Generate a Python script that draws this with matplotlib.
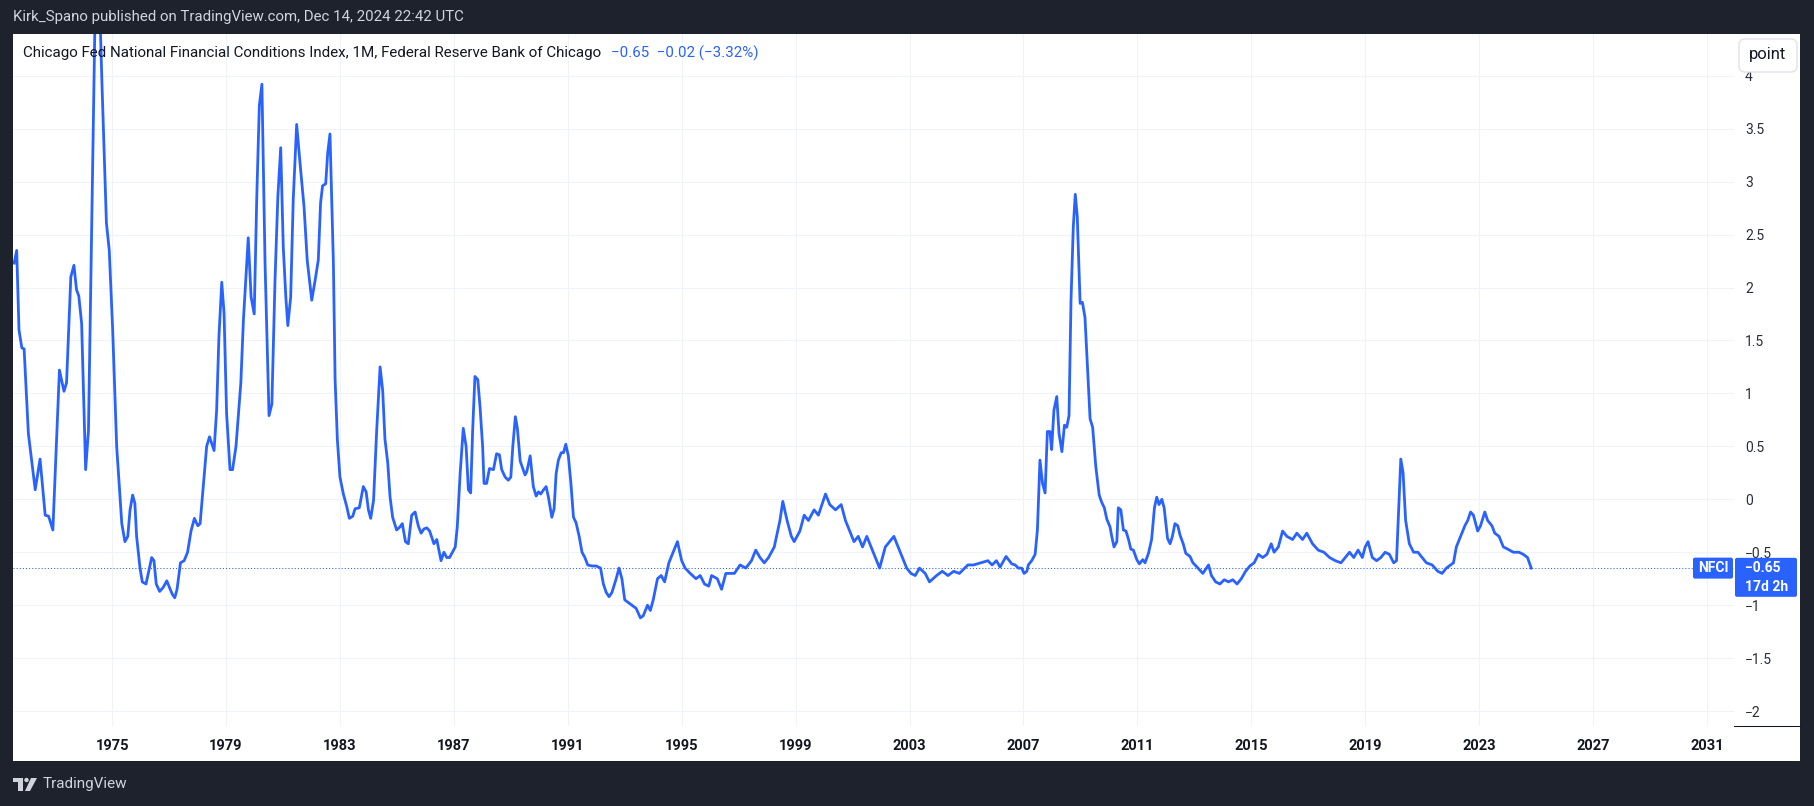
import matplotlib
matplotlib.use("Agg")
import numpy as np
import matplotlib.pyplot as plt
from matplotlib.patches import Rectangle, FancyBboxPatch, Polygon, Circle
from matplotlib.lines import Line2D
from matplotlib.transforms import IdentityTransform

plt.rcParams['font.family'] = ['Roboto', 'DejaVu Sans']

# NFCI, monthly readings taken off the chart (decimal year, index value)
years_1971 = [1971.56, 1971.65, 1971.73, 1971.83, 1971.91, 1972.06, 1972.30, 1972.47, 1972.65, 1972.77,
              1972.92, 1973.15, 1973.31, 1973.40, 1973.55, 1973.66, 1973.75, 1973.83, 1973.93, 1974.07,
              1974.17, 1974.28, 1974.42, 1974.54, 1974.64, 1974.80, 1974.90, 1975.02, 1975.16, 1975.34,
              1975.45, 1975.55, 1975.63, 1975.72, 1975.80, 1975.86, 1975.98, 1976.06, 1976.19, 1976.27,
              1976.39, 1976.47, 1976.55, 1976.67, 1976.80, 1976.92, 1977.04, 1977.12, 1977.20, 1977.28,
              1977.40, 1977.53, 1977.65, 1977.77, 1977.89, 1978.01, 1978.09, 1978.32, 1978.42, 1978.58,
              1978.67, 1978.75, 1978.85, 1978.93, 1979.02, 1979.14, 1979.23, 1979.35, 1979.52, 1979.61,
              1979.78, 1979.88, 1979.99]
nfci_1971 = [2.23, 2.35, 1.60, 1.43, 1.42, 0.62, 0.09, 0.38, -0.15, -0.16,
             -0.29, 1.22, 1.02, 1.10, 2.10, 2.21, 1.98, 1.92, 1.66, 0.28,
             0.65, 2.54, 4.90, 4.90, 3.96, 2.61, 2.35, 1.60, 0.50, -0.23,
             -0.40, -0.35, -0.10, 0.04, -0.04, -0.35, -0.65, -0.78, -0.80, -0.70,
             -0.55, -0.58, -0.80, -0.87, -0.83, -0.77, -0.85, -0.90, -0.93, -0.85,
             -0.60, -0.58, -0.50, -0.30, -0.18, -0.25, -0.23, 0.50, 0.59, 0.46,
             0.84, 1.53, 2.05, 1.76, 0.81, 0.28, 0.28, 0.50, 1.10, 1.69,
             2.47, 1.91, 1.75]

years_1980 = [1980.08, 1980.17, 1980.26, 1980.37, 1980.51, 1980.61, 1980.72, 1980.82, 1980.92, 1981.01,
              1981.10, 1981.17, 1981.27, 1981.36, 1981.48, 1981.60, 1981.74, 1981.85, 1982.01, 1982.13,
              1982.24, 1982.32, 1982.39, 1982.50, 1982.57, 1982.65, 1982.77, 1982.83, 1982.91, 1983.00,
              1983.12, 1983.24, 1983.33, 1983.45, 1983.53, 1983.68, 1983.82, 1983.92, 1984.00, 1984.08,
              1984.18, 1984.29, 1984.41, 1984.50, 1984.58, 1984.68, 1984.76, 1984.85, 1984.99, 1985.11,
              1985.19, 1985.30, 1985.40, 1985.52, 1985.64, 1985.75, 1985.85, 1985.95, 1986.05, 1986.15,
              1986.30, 1986.40, 1986.55, 1986.65, 1986.75, 1986.85, 1986.95, 1987.05, 1987.12, 1987.22,
              1987.33, 1987.43, 1987.51, 1987.59, 1987.66, 1987.74, 1987.84, 1987.92, 1988.01, 1988.06,
              1988.15, 1988.25, 1988.39, 1988.50, 1988.60, 1988.68, 1988.80, 1988.91, 1989.00, 1989.07,
              1989.16, 1989.23, 1989.33, 1989.50, 1989.56, 1989.68, 1989.79, 1989.89, 1989.97, 1990.05,
              1990.15, 1990.24, 1990.32, 1990.44, 1990.52, 1990.59, 1990.67, 1990.77, 1990.85, 1990.93,
              1991.02, 1991.11, 1991.20, 1991.29]
nfci_1980 = [2.86, 3.72, 3.92, 2.23, 0.79, 0.90, 2.07, 2.86, 3.32, 2.38,
             1.91, 1.64, 1.91, 2.83, 3.54, 3.17, 2.76, 2.26, 1.88, 2.07,
             2.26, 2.80, 2.96, 2.98, 3.27, 3.45, 2.23, 1.13, 0.56, 0.21,
             0.05, -0.07, -0.18, -0.16, -0.09, -0.08, 0.12, 0.07, -0.10, -0.18,
             -0.01, 0.65, 1.25, 1.03, 0.57, 0.34, 0.02, -0.17, -0.29, -0.26,
             -0.23, -0.40, -0.42, -0.15, -0.12, -0.25, -0.32, -0.28, -0.27, -0.30,
             -0.42, -0.38, -0.58, -0.50, -0.55, -0.55, -0.50, -0.45, -0.26, 0.24,
             0.67, 0.50, 0.09, 0.06, 0.65, 1.16, 1.13, 0.87, 0.50, 0.15,
             0.15, 0.29, 0.28, 0.43, 0.42, 0.28, 0.21, 0.18, 0.21, 0.50,
             0.78, 0.67, 0.36, 0.23, 0.26, 0.41, 0.12, 0.03, 0.07, 0.05,
             0.09, 0.12, 0.02, -0.17, -0.09, 0.24, 0.37, 0.44, 0.44, 0.52,
             0.41, 0.15, -0.17, -0.22]

years_1991 = [1991.40, 1991.50, 1991.60, 1991.70, 1991.85, 1992.00, 1992.15, 1992.25, 1992.35, 1992.45,
              1992.55, 1992.70, 1992.80, 1992.90, 1993.00, 1993.10, 1993.25, 1993.40, 1993.55, 1993.65,
              1993.80, 1993.90, 1994.00, 1994.15, 1994.28, 1994.40, 1994.55, 1994.70, 1994.85, 1995.00,
              1995.12, 1995.30, 1995.50, 1995.65, 1995.80, 1995.95, 1996.05, 1996.25, 1996.40, 1996.55,
              1996.85, 1997.05, 1997.25, 1997.45, 1997.60, 1997.75, 1997.90, 1998.05, 1998.25, 1998.45,
              1998.55, 1998.70, 1998.85, 1998.95, 1999.15, 1999.30, 1999.45, 1999.65, 1999.80, 2000.05,
              2000.20, 2000.40, 2000.60, 2000.75, 2000.90, 2001.05, 2001.20, 2001.35, 2001.50, 2001.65,
              2001.80, 2001.95, 2002.15, 2002.30, 2002.45, 2002.60, 2002.75, 2002.90, 2003.05, 2003.20,
              2003.35, 2003.55, 2003.70, 2003.95, 2004.15, 2004.35, 2004.55, 2004.75, 2005.05, 2005.25,
              2005.50, 2005.75, 2005.90, 2006.05]
nfci_1991 = [-0.35, -0.50, -0.55, -0.62, -0.63, -0.63, -0.65, -0.80, -0.88, -0.92,
             -0.88, -0.75, -0.65, -0.75, -0.95, -0.97, -1.00, -1.03, -1.12, -1.10,
             -1.00, -1.05, -0.95, -0.75, -0.72, -0.78, -0.60, -0.50, -0.40, -0.58,
             -0.65, -0.70, -0.75, -0.72, -0.80, -0.82, -0.72, -0.75, -0.85, -0.70,
             -0.70, -0.62, -0.65, -0.58, -0.48, -0.55, -0.60, -0.55, -0.45, -0.20,
             -0.02, -0.20, -0.35, -0.40, -0.30, -0.15, -0.20, -0.10, -0.15, 0.05,
             -0.05, -0.10, -0.05, -0.20, -0.30, -0.40, -0.35, -0.45, -0.35, -0.45,
             -0.55, -0.65, -0.45, -0.40, -0.35, -0.45, -0.55, -0.65, -0.70, -0.72,
             -0.65, -0.70, -0.78, -0.72, -0.68, -0.72, -0.68, -0.70, -0.62, -0.62,
             -0.60, -0.58, -0.62, -0.58]

years_2006 = [2006.18, 2006.39, 2006.59, 2006.71, 2006.82, 2006.94, 2007.02, 2007.12, 2007.17, 2007.29,
              2007.41, 2007.49, 2007.58, 2007.67, 2007.76, 2007.84, 2007.93, 2007.99, 2008.07, 2008.17,
              2008.25, 2008.35, 2008.44, 2008.52, 2008.60, 2008.67, 2008.75, 2008.82, 2008.89, 2008.99,
              2009.07, 2009.16, 2009.26, 2009.34, 2009.43, 2009.54, 2009.66, 2009.75, 2009.84, 2009.93,
              2010.04, 2010.10, 2010.18, 2010.28, 2010.33, 2010.42, 2010.51, 2010.60, 2010.69, 2010.77,
              2010.86, 2010.98, 2011.07, 2011.19, 2011.27, 2011.39, 2011.50, 2011.60, 2011.68, 2011.76,
              2011.86, 2011.94, 2012.06, 2012.15, 2012.23, 2012.32, 2012.42, 2012.50, 2012.61, 2012.70,
              2012.85, 2012.95, 2013.06, 2013.20]
nfci_2006 = [-0.64, -0.54, -0.61, -0.62, -0.65, -0.65, -0.70, -0.68, -0.62, -0.58,
             -0.52, -0.29, 0.37, 0.15, 0.06, 0.64, 0.64, 0.47, 0.84, 0.97,
             0.62, 0.45, 0.70, 0.68, 0.79, 1.88, 2.57, 2.88, 2.67, 1.85,
             1.86, 1.72, 1.19, 0.76, 0.68, 0.31, 0.04, -0.03, -0.08, -0.19,
             -0.26, -0.35, -0.45, -0.40, -0.08, -0.10, -0.29, -0.30, -0.38, -0.47,
             -0.48, -0.57, -0.61, -0.57, -0.60, -0.51, -0.38, -0.08, 0.02, -0.05,
             0.00, -0.08, -0.37, -0.42, -0.35, -0.23, -0.25, -0.34, -0.42, -0.51,
             -0.54, -0.60, -0.63, -0.67]

years_2013 = [2013.30, 2013.40, 2013.50, 2013.60, 2013.75, 2013.90, 2014.05, 2014.20, 2014.35, 2014.50,
              2014.65, 2014.80, 2014.95, 2015.10, 2015.25, 2015.40, 2015.55, 2015.70, 2015.80, 2015.95,
              2016.10, 2016.25, 2016.45, 2016.60, 2016.80, 2016.95, 2017.15, 2017.35, 2017.55, 2017.75,
              2017.95, 2018.15, 2018.30, 2018.45, 2018.60, 2018.75, 2018.90, 2019.00, 2019.10, 2019.25,
              2019.40, 2019.55, 2019.70, 2019.85, 2020.00, 2020.10, 2020.25, 2020.33, 2020.42, 2020.55,
              2020.70, 2020.85, 2021.00, 2021.15, 2021.35, 2021.55, 2021.70, 2021.85, 2022.00, 2022.10,
              2022.20, 2022.35, 2022.50, 2022.60, 2022.70, 2022.80, 2022.95, 2023.05, 2023.20, 2023.30,
              2023.45, 2023.55, 2023.70, 2023.85, 2024.00, 2024.20, 2024.40, 2024.55, 2024.70, 2024.83]
nfci_2013 = [-0.70, -0.66, -0.62, -0.72, -0.78, -0.80, -0.76, -0.78, -0.76, -0.80,
             -0.75, -0.68, -0.63, -0.60, -0.52, -0.55, -0.52, -0.42, -0.50, -0.45,
             -0.30, -0.35, -0.38, -0.32, -0.38, -0.32, -0.42, -0.48, -0.50, -0.55,
             -0.58, -0.60, -0.55, -0.50, -0.55, -0.48, -0.55, -0.45, -0.40, -0.55,
             -0.58, -0.55, -0.50, -0.52, -0.60, -0.58, 0.38, 0.25, -0.20, -0.42,
             -0.50, -0.50, -0.55, -0.60, -0.62, -0.68, -0.70, -0.65, -0.62, -0.60,
             -0.45, -0.35, -0.25, -0.20, -0.12, -0.15, -0.30, -0.25, -0.12, -0.20,
             -0.25, -0.32, -0.35, -0.45, -0.47, -0.50, -0.50, -0.52, -0.55, -0.65]

header = "Kirk_Spano published on TradingView.com, Dec 14, 2024 22:42 UTC"
title = "Chicago Fed National Financial Conditions Index, 1M, Federal Reserve Bank of Chicago"
legend_vals = "\u22120.65  \u22120.02 (\u22123.32%)"
series_name = "NFCI"
countdown = "17d 2h"
year_ticks = list(range(1975, 2032, 4))
value_ticks = np.arange(-2, 4.01, 0.5)

years = years_1971 + years_1980 + years_1991 + years_2006 + years_2013
nfci = nfci_1971 + nfci_1980 + nfci_1991 + nfci_2006 + nfci_2013

W, H = 1814, 806
BG = "#1e222d"
BLUE = "#2962ff"
INK = "#131722"
GRID = "#f0f3fa"

fig = plt.figure(figsize=(W / 100, H / 100), dpi=100, facecolor=BG)
px = IdentityTransform()

# white card behind chart + axes
fig.patches.append(Rectangle((13, H - 761), 1787, 727, transform=px,
                             fc="white", ec="none", zorder=-1))

ax = fig.add_axes([13 / W, (H - 726) / H, 1721 / W, 692 / H])
ax.set_facecolor("white")
for s in ax.spines.values():
    s.set_visible(False)

ax.plot(years, nfci, color=BLUE, lw=2.0, solid_joinstyle="round", zorder=3)
last = nfci[-1]
ax.axhline(last, color=BLUE, lw=0.75, ls=(0, (1, 2)), zorder=2)

ax.set_xlim(1971.52, 2031.95)
ax.set_ylim(-2.141, 4.394)
ax.set_xticks(year_ticks)
ax.set_xticklabels([str(y) for y in year_ticks])
ax.set_yticks(value_ticks)
ax.set_yticklabels([f"{v:g}".replace("-", "\u2212") for v in value_ticks])
ax.yaxis.tick_right()
ax.tick_params(axis="y", length=0, pad=8, labelsize=10, labelcolor="#2a2e39")
ax.tick_params(axis="x", length=0, pad=9.5, labelsize=10.5, labelcolor=INK)
for lab in ax.get_xticklabels():
    lab.set_fontweight("bold")
ax.grid(True, color=GRID, lw=0.75, zorder=0)

# header / footer on dark background
fig.text(13, H - 17, header, transform=px, color="#d1d4dc", fontsize=10.8, va="center")
fig.text(43, H - 784, "TradingView", transform=px, color="#d1d4dc", fontsize=11, va="center")
logo_col = "#d1d4dc"
fig.patches.append(Polygon([(13, H - 778), (23, H - 778), (23, H - 791), (18, H - 791),
                            (18, H - 782), (13, H - 782)], closed=True, transform=px,
                           fc=logo_col, ec="none"))
fig.patches.append(Circle((26.5, H - 780), 2.2, transform=px, fc=logo_col, ec="none"))
fig.patches.append(Polygon([(31, H - 778), (37, H - 778), (30, H - 791), (25, H - 791)],
                           closed=True, transform=px, fc=logo_col, ec="none"))

# legend line inside the pane
t = fig.text(23, H - 53, title, transform=px, color=INK, fontsize=10.9, va="center", zorder=5)
fig.canvas.draw()
x_end = t.get_window_extent(fig.canvas.get_renderer()).x1
fig.text(x_end + 10, H - 53, legend_vals, transform=px, color=BLUE, fontsize=10.9,
         va="center", zorder=5)

# "point" button (covers the top tick label)
fig.patches.append(FancyBboxPatch((1739, H - 72), 58, 33, boxstyle="round,pad=0,rounding_size=6",
                                  transform=px, fc="white", ec="#e0e3eb", lw=1, zorder=4))
fig.text(1768, H - 55, "point", transform=px, color=INK, fontsize=12, ha="center",
         va="center", zorder=5)

# last-value labels
y_last = ax.transData.transform((2000, last))[1]
fig.patches.append(FancyBboxPatch((1693, y_last - 10.5), 40, 21,
                                  boxstyle="round,pad=0,rounding_size=2", transform=px,
                                  fc=BLUE, ec="none", zorder=4))
fig.text(1713, y_last, series_name, transform=px, color="white", fontsize=10,
         fontweight="bold", ha="center", va="center", zorder=5)
fig.patches.append(FancyBboxPatch((1735, y_last - 28.7), 62, 39,
                                  boxstyle="round,pad=0,rounding_size=2", transform=px,
                                  fc=BLUE, ec="none", zorder=4))
fig.text(1745, y_last, f"{last:.2f}".replace("-", "\u2212"), transform=px, color="white",
         fontsize=10, fontweight="bold", va="center", zorder=5)
fig.text(1745, y_last - 19, countdown, transform=px, color="white", fontsize=10,
         fontweight="bold", va="center", zorder=5)

fig.lines.append(Line2D([1734, 1800], [H - 726, H - 726], transform=px, color=INK, lw=0.75))

fig.savefig("out.png", dpi=100, facecolor=BG)
